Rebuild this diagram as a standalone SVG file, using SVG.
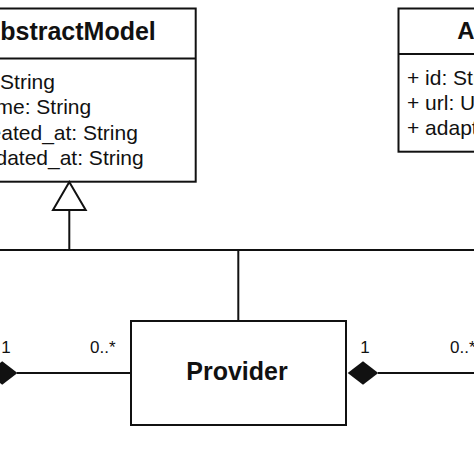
<svg xmlns="http://www.w3.org/2000/svg" width="474" height="474" viewBox="0 0 474 474">
<style>
.box{fill:#fff;stroke:#111;stroke-width:2}
.ln{fill:none;stroke:#111;stroke-width:2}
.title{font-family:"Liberation Sans",Arial,sans-serif;font-weight:bold;font-size:24px;fill:#111}
.attr{font-family:"Liberation Sans",Arial,sans-serif;font-size:21px;fill:#111}
.lbl{font-family:"Liberation Sans",Arial,sans-serif;font-size:17px;fill:#111}
</style>
<defs>
<polygon id="dia" points="-15.3,0 0,-11.7 15.3,0 0,11.7" fill="#111"/>
</defs>
<rect width="474" height="474" fill="#fff"/>
<g id="AbstractModel">
<rect class="box" x="-50" y="8.5" width="245.7" height="173.2"/>
<line class="ln" x1="-50" y1="58.5" x2="195.7" y2="58.5"/>
<text class="title" x="69" y="40" text-anchor="middle" style="font-size:25px">AbstractModel</text>
<text class="attr" x="-46" y="88.5">+ id: String</text>
<text class="attr" x="-46" y="114">+ name: String</text>
<text class="attr" x="-46" y="139.5">+ created_at: String</text>
<text class="attr" x="-46" y="164.5">+ updated_at: String</text>
</g>
<g id="Adapter">
<rect class="box" x="398.5" y="8.5" width="208" height="143.2"/>
<line class="ln" x1="398.5" y1="54" x2="606.5" y2="54"/>
<text class="title" x="502.5" y="38.5" text-anchor="middle">Adapter</text>
<text class="attr" x="407" y="85">+ id: String</text>
<text class="attr" x="407" y="110">+ url: URL</text>
<text class="attr" x="407" y="135">+ adapter: String</text>
</g>
<g id="Provider">
<rect class="box" x="131" y="321" width="215" height="104"/>
<text class="title" x="237" y="380" text-anchor="middle" style="font-size:25px">Provider</text>
</g>
<g id="connectors">
<polygon points="69.3,182 85.7,210 53,210" fill="#fff" stroke="#111" stroke-width="2"/>
<line class="ln" x1="69.3" y1="210" x2="69.3" y2="250"/>
<line class="ln" x1="0" y1="250" x2="474" y2="250"/>
<line class="ln" x1="238.3" y1="250" x2="238.3" y2="321"/>
<line class="ln" x1="17" y1="373" x2="131" y2="373"/>
<use href="#dia" x="2.2" y="373"/>
<line class="ln" x1="378" y1="373" x2="474" y2="373"/>
<use href="#dia" x="363" y="373"/>
<text class="lbl" x="6" y="353" text-anchor="middle">1</text>
<text class="lbl" x="90" y="352.5">0..*</text>
<text class="lbl" x="365" y="353" text-anchor="middle">1</text>
<text class="lbl" x="450" y="352.5">0..*</text>
</g>
</svg>
